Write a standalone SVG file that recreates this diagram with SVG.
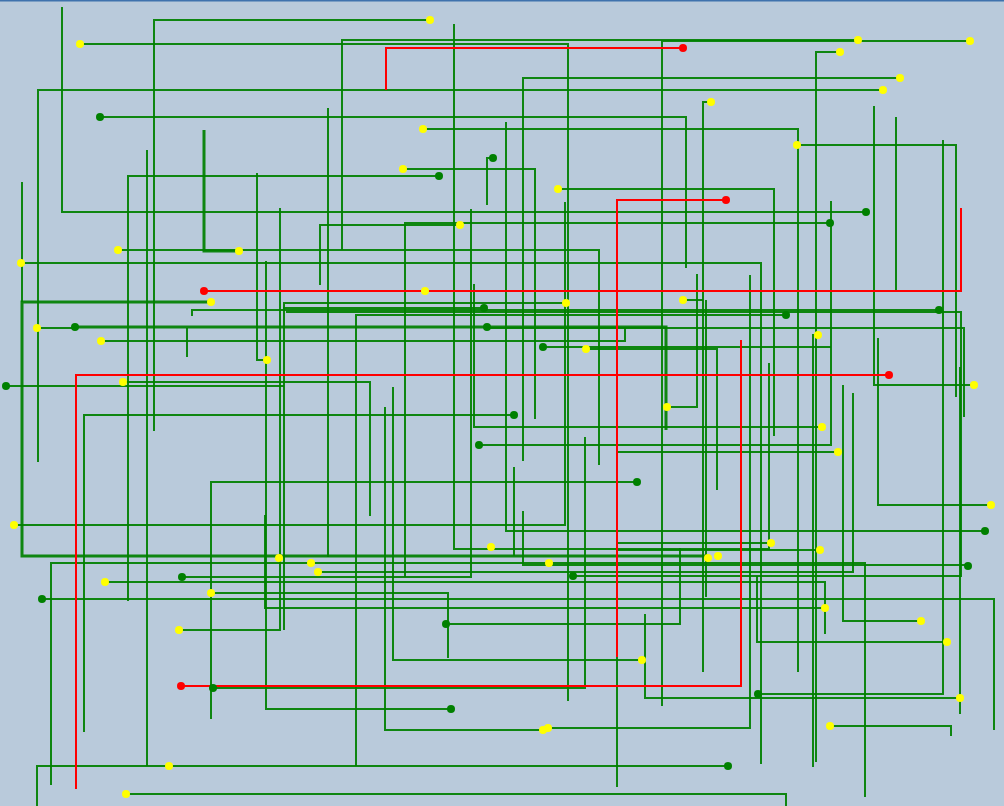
<svg xmlns="http://www.w3.org/2000/svg" width="1004" height="806" viewBox="0 0 1004 806">
<style>
.bg{fill:#b9cadb}
.g{fill:none;stroke:#008000;stroke-width:2;stroke-opacity:0.92}
.t{stroke-width:3}
.r{fill:none;stroke:#ff0000;stroke-width:2}
.dy{fill:#ffff00}
.dg{fill:#008000}
.dr{fill:#ff0000}
</style>
<rect class="bg" x="0" y="0" width="1004" height="806"/>
<line x1="0" y1="0.5" x2="1004" y2="0.5" stroke="#3f72ad" stroke-width="2"/>
<g id="connectors">
<polyline class="g" points="430,20 154,20 154,431"/>
<polyline class="g" points="80,44 568,44 568,701"/>
<polyline class="g" points="342,250 342,40 858,40"/>
<polyline class="g" points="662,706 662,41 970,41"/>
<polyline class="g" points="38,462 38,90 883,90"/>
<polyline class="g" points="900,78 523,78 523,461"/>
<polyline class="g" points="523,511 523,565 968,565"/>
<polyline class="g" points="100,117 686,117 686,268"/>
<polyline class="g" points="711,102 703,102 703,672"/>
<polyline class="g" points="706,300 706,597"/>
<polyline class="g" points="423,129 798,129 798,672"/>
<polyline class="g" points="797,145 956,145 956,397"/>
<polyline class="g" points="840,52 816,52 816,762"/>
<polyline class="g" points="874,106 874,385 974,385"/>
<polyline class="g" points="896,117 896,290"/>
<polyline class="g" points="943,140 943,694 758,694"/>
<polyline class="g" points="645,614 645,698 960,698"/>
<polyline class="g" points="62,7 62,212 866,212"/>
<polyline class="g" points="830,223 405,223 405,577"/>
<polyline class="g" points="320,285 320,225 460,225"/>
<polyline class="g" points="493,158 487,158 487,205"/>
<polyline class="g" points="403,169 535,169 535,419"/>
<polyline class="g" points="439,176 128,176 128,601"/>
<polyline class="g" points="147,150 147,766"/>
<polyline class="g" points="37,806 37,766 728,766"/>
<polyline class="g t" points="204,130 204,251 239,251"/>
<polyline class="g" points="118,250 599,250 599,465"/>
<polyline class="g" points="257,173 257,360 267,360"/>
<polyline class="g" points="179,630 280,630 280,208"/>
<polyline class="g" points="21,263 761,263 761,764"/>
<polyline class="g" points="22,182 22,302"/>
<polyline class="g t" points="211,302 22,302 22,556 708,556"/>
<polyline class="g t" points="75,327 666,327 666,430"/>
<polyline class="g" points="37,328 75,328"/>
<polyline class="g" points="187,328 187,357"/>
<polyline class="g" points="101,341 625,341 625,328"/>
<polyline class="g" points="6,386 284,386"/>
<polyline class="g" points="123,382 370,382 370,516"/>
<polyline class="g" points="84,732 84,415 514,415"/>
<polyline class="g" points="543,347 831,347"/>
<polyline class="g" points="831,201 831,445 479,445"/>
<polyline class="g" points="586,349 717,349 717,490"/>
<polyline class="g" points="667,407 697,407 697,274"/>
<polyline class="g" points="474,284 474,427 822,427"/>
<polyline class="g" points="838,452 617,452 617,787"/>
<polyline class="g" points="585,437 585,688 213,688"/>
<polyline class="g" points="637,482 211,482 211,719"/>
<polyline class="g" points="211,593 448,593 448,658"/>
<polyline class="g" points="878,338 878,505 991,505"/>
<polyline class="g" points="14,525 565,525 565,202"/>
<polyline class="g" points="506,122 506,531 985,531"/>
<polyline class="g" points="454,24 454,549 769,549 769,363"/>
<polyline class="g" points="618,543 771,543"/>
<polyline class="g" points="820,550 617,550"/>
<polyline class="g" points="182,577 471,577 471,209"/>
<polyline class="g" points="328,108 328,557"/>
<polyline class="g" points="266,261 266,709 451,709"/>
<polyline class="g" points="265,515 265,608 825,608"/>
<polyline class="g" points="105,582 825,582 825,634"/>
<polyline class="g" points="42,599 994,599 994,730"/>
<polyline class="g" points="446,624 680,624 680,548"/>
<polyline class="g" points="642,660 393,660 393,387"/>
<polyline class="g" points="385,407 385,730 543,730"/>
<polyline class="g" points="548,728 750,728 750,275"/>
<polyline class="g" points="126,794 786,794 786,806"/>
<polyline class="g" points="51,785 51,563 865,563 865,797"/>
<polyline class="g" points="830,726 951,726 951,736"/>
<polyline class="g" points="843,385 843,621 921,621"/>
<polyline class="g" points="318,572 853,572 853,393"/>
<polyline class="g" points="573,576 961,576 961,312 286,312"/>
<polyline class="g" points="960,367 960,714"/>
<polyline class="g" points="757,576 757,642 947,642"/>
<polyline class="g" points="818,335 813,335 813,767"/>
<polyline class="g" points="192,316 192,310 939,310"/>
<polyline class="g" points="284,630 284,303 566,303"/>
<polyline class="g" points="283,308 484,308"/>
<polyline class="g" points="356,766 356,315 786,315"/>
<polyline class="g" points="487,328 964,328 964,417"/>
<polyline class="g" points="514,467 514,556"/>
<polyline class="g" points="558,189 774,189 774,436"/>
<polyline class="g" points="683,300 703,300"/>
<polyline class="r" points="386,90 386,48 683,48"/>
<polyline class="r" points="726,200 617,200 617,657"/>
<polyline class="r" points="204,291 961,291 961,208"/>
<polyline class="r" points="76,789 76,375 889,375"/>
<polyline class="r" points="181,686 741,686 741,340"/>
</g>
<g id="dots-yellow">
<circle class="dy" cx="430" cy="20" r="4"/><circle class="dy" cx="80" cy="44" r="4"/><circle class="dy" cx="858" cy="40" r="4"/><circle class="dy" cx="970" cy="41" r="4"/><circle class="dy" cx="883" cy="90" r="4"/><circle class="dy" cx="900" cy="78" r="4"/><circle class="dy" cx="840" cy="52" r="4"/><circle class="dy" cx="711" cy="102" r="4"/><circle class="dy" cx="423" cy="129" r="4"/><circle class="dy" cx="797" cy="145" r="4"/><circle class="dy" cx="403" cy="169" r="4"/><circle class="dy" cx="558" cy="189" r="4"/><circle class="dy" cx="460" cy="225" r="4"/><circle class="dy" cx="118" cy="250" r="4"/><circle class="dy" cx="239" cy="251" r="4"/><circle class="dy" cx="21" cy="263" r="4"/><circle class="dy" cx="425" cy="291" r="4"/><circle class="dy" cx="211" cy="302" r="4"/><circle class="dy" cx="566" cy="303" r="4"/><circle class="dy" cx="683" cy="300" r="4"/><circle class="dy" cx="37" cy="328" r="4"/><circle class="dy" cx="101" cy="341" r="4"/><circle class="dy" cx="267" cy="360" r="4"/><circle class="dy" cx="586" cy="349" r="4"/><circle class="dy" cx="123" cy="382" r="4"/><circle class="dy" cx="974" cy="385" r="4"/><circle class="dy" cx="818" cy="335" r="4"/><circle class="dy" cx="667" cy="407" r="4"/><circle class="dy" cx="822" cy="427" r="4"/><circle class="dy" cx="838" cy="452" r="4"/><circle class="dy" cx="991" cy="505" r="4"/><circle class="dy" cx="14" cy="525" r="4"/><circle class="dy" cx="491" cy="547" r="4"/><circle class="dy" cx="771" cy="543" r="4"/><circle class="dy" cx="820" cy="550" r="4"/><circle class="dy" cx="708" cy="558" r="4"/><circle class="dy" cx="718" cy="556" r="4"/><circle class="dy" cx="279" cy="558" r="4"/><circle class="dy" cx="311" cy="563" r="4"/><circle class="dy" cx="318" cy="572" r="4"/><circle class="dy" cx="549" cy="563" r="4"/><circle class="dy" cx="105" cy="582" r="4"/><circle class="dy" cx="211" cy="593" r="4"/><circle class="dy" cx="825" cy="608" r="4"/><circle class="dy" cx="179" cy="630" r="4"/><circle class="dy" cx="921" cy="621" r="4"/><circle class="dy" cx="947" cy="642" r="4"/><circle class="dy" cx="642" cy="660" r="4"/><circle class="dy" cx="960" cy="698" r="4"/><circle class="dy" cx="543" cy="730" r="4"/><circle class="dy" cx="548" cy="728" r="4"/><circle class="dy" cx="830" cy="726" r="4"/><circle class="dy" cx="169" cy="766" r="4"/><circle class="dy" cx="126" cy="794" r="4"/>
</g>
<g id="dots-green">
<circle class="dg" cx="100" cy="117" r="4"/><circle class="dg" cx="493" cy="158" r="4"/><circle class="dg" cx="439" cy="176" r="4"/><circle class="dg" cx="866" cy="212" r="4"/><circle class="dg" cx="830" cy="223" r="4"/><circle class="dg" cx="484" cy="308" r="4"/><circle class="dg" cx="487" cy="327" r="4"/><circle class="dg" cx="75" cy="327" r="4"/><circle class="dg" cx="939" cy="310" r="4"/><circle class="dg" cx="786" cy="315" r="4"/><circle class="dg" cx="543" cy="347" r="4"/><circle class="dg" cx="6" cy="386" r="4"/><circle class="dg" cx="514" cy="415" r="4"/><circle class="dg" cx="479" cy="445" r="4"/><circle class="dg" cx="637" cy="482" r="4"/><circle class="dg" cx="985" cy="531" r="4"/><circle class="dg" cx="968" cy="566" r="4"/><circle class="dg" cx="182" cy="577" r="4"/><circle class="dg" cx="573" cy="576" r="4"/><circle class="dg" cx="42" cy="599" r="4"/><circle class="dg" cx="446" cy="624" r="4"/><circle class="dg" cx="213" cy="688" r="4"/><circle class="dg" cx="758" cy="694" r="4"/><circle class="dg" cx="451" cy="709" r="4"/><circle class="dg" cx="728" cy="766" r="4"/>
</g>
<g id="dots-red">
<circle class="dr" cx="683" cy="48" r="4"/><circle class="dr" cx="726" cy="200" r="4"/><circle class="dr" cx="204" cy="291" r="4"/><circle class="dr" cx="889" cy="375" r="4"/><circle class="dr" cx="181" cy="686" r="4"/>
</g>
</svg>
